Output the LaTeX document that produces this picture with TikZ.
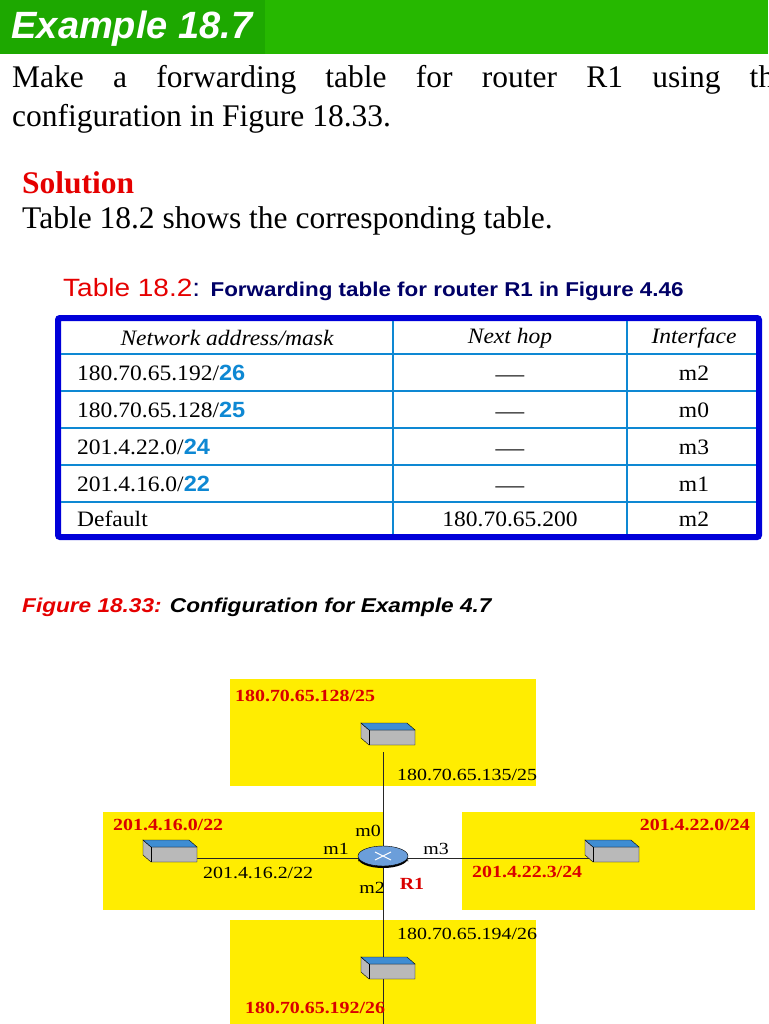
\documentclass[tikz,border=0pt]{standalone}
\usepackage{fontspec}
\setmainfont{Liberation Serif}
\setsansfont{Liberation Sans}
\newcommand\xstretch[2]{\scalebox{#1}[1]{#2}}
\begin{document}
\begin{tikzpicture}[x=1pt,y=-1pt,
  ybox/.style={fill=yellow!95!orange,draw=none},
  netlbl/.style={font=\fontsize{17}{18}\selectfont\bfseries,text=red!85!black,inner sep=0pt},
  iplbl/.style={font=\fontsize{17}{18}\selectfont,inner sep=0pt,anchor=west},
  cell/.style={font=\fontsize{22}{24}\selectfont,inner sep=0pt}]
\useasboundingbox (0,0) rectangle (768,1024);
\clip (0,0) rectangle (768,1024);
% banner
\fill[green!65!black!80!lime] (0,0) rectangle (768,54);
\fill[green!60!black!85!lime] (0,0) rectangle (265,54);
\node[anchor=west,text=white,font=\sffamily\bfseries\itshape\fontsize{38}{40}\selectfont] (title) at (8,29) {Example 18.7};
% text
\node[anchor=west,inner sep=0pt,font=\fontsize{31.5}{34}\selectfont] (l1) at (12,80) {\makebox[776pt][s]{Make a forwarding table for router R1 using the}};
\node[anchor=west,inner sep=0pt,font=\fontsize{31.5}{34}\selectfont] (l2) at (12,119) {configuration in Figure 18.33.};
\node[anchor=west,inner sep=0pt,text=red!90!black,font=\bfseries\fontsize{31.5}{34}\selectfont] (sol) at (22,183) {Solution};
\node[anchor=west,inner sep=0pt,font=\fontsize{31.5}{34}\selectfont] (l3) at (22,221) {Table 18.2 shows the corresponding table.};
\node[anchor=west,inner sep=0pt,font=\sffamily] (cap) at (63,290) {\xstretch{1.12}{\fontsize{25}{27}\selectfont\textcolor{red!90!black}{Table 18.2}\textcolor{blue!40!black}{: \bfseries\fontsize{20}{22}\selectfont Forwarding table for router R1 in Figure 4.46}}};
% table
\fill[white] (55,315) rectangle (762,540);
\draw[blue!85!black,line width=6pt,rounded corners=2pt] (58,318) rectangle (759,537);
\foreach \y in {354,391,428,465,502} \draw[cyan!70!blue,line width=1.5pt] (61,\y) -- (756,\y);
\draw[cyan!70!blue,line width=1.5pt] (393,321) -- (393,534);
\draw[cyan!70!blue,line width=1.5pt] (627,321) -- (627,534);
\node[cell] (h1) at (227,338) {\xstretch{1.07}{\itshape Network address/mask}};
\node[cell] (h2) at (510,338) {\xstretch{1.07}{\itshape Next hop}};
\node[cell] (h3) at (694,338) {\xstretch{1.07}{\itshape Interface}};
\node[cell,anchor=west] (r1) at (77,373) {\xstretch{1.07}{180.70.65.192/\textcolor{cyan!70!blue}{\sffamily\bfseries 26}}};
\node[cell,anchor=west] (r2) at (77,410) {\xstretch{1.07}{180.70.65.128/\textcolor{cyan!70!blue}{\sffamily\bfseries 25}}};
\node[cell,anchor=west] (r3) at (77,447) {\xstretch{1.07}{201.4.22.0/\textcolor{cyan!70!blue}{\sffamily\bfseries 24}}};
\node[cell,anchor=west] (r4) at (77,484) {\xstretch{1.07}{201.4.16.0/\textcolor{cyan!70!blue}{\sffamily\bfseries 22}}};
\node[cell,anchor=west] (r5) at (77,519) {\xstretch{1.07}{Default}};
\foreach \y/\n in {373/a,410/b,447/c,484/d} \node[cell] (nh\n) at (510,\y+6) {\xstretch{1.3}{---}};
\node[cell] (nhe) at (510,519) {\xstretch{1.07}{180.70.65.200}};
\node[cell] (i1) at (694,373) {\xstretch{1.07}{m2}};
\node[cell] (i2) at (694,410) {\xstretch{1.07}{m0}};
\node[cell] (i3) at (694,447) {\xstretch{1.07}{m3}};
\node[cell] (i4) at (694,484) {\xstretch{1.07}{m1}};
\node[cell] (i5) at (694,519) {\xstretch{1.07}{m2}};
% figure caption
\node[anchor=west,inner sep=0pt,font=\sffamily\bfseries\itshape\fontsize{20}{22}\selectfont] (fcap) at (22,607) {\xstretch{1.13}{\textcolor{red!90!black}{Figure 18.33:} Configuration for Example 4.7}};
% diagram
\fill[ybox] (230,679) rectangle (536,786);
\fill[ybox] (103,812) rectangle (384,910);
\fill[ybox] (462,812) rectangle (755,910);
\fill[ybox] (230,920) rectangle (536,1030);
\coordinate (top) at (383,752);
\coordinate (bot) at (383,1024);
\coordinate (lft) at (196,858);
\coordinate (rgt) at (590,858);
\draw[gray!30!black,line width=1pt] (top) -- (bot);
\draw[gray!30!black,line width=1pt] (lft) -- (rgt);
% switches
\foreach \n/\cx/\cy in {sw0/388/741,sw1/170/858,sw3/612/858,sw2/388/975}{
  \begin{scope}[shift={(\cx,\cy)}]
  \filldraw[fill=gray!55,draw=black] (-27,-3) -- (-19,4) -- (27,4) -- (27,-11) -- (-19,-11) -- (-27,-18) -- cycle;
  \filldraw[fill=cyan!60!blue!80,draw=black] (-27,-18) -- (19,-18) -- (27,-11) -- (-19,-11) -- cycle;
  \draw (-19,-11) -- (-19,4);
  \end{scope}
  \coordinate (\n) at (\cx,\cy);
}
% router
\fill[black] (358,862) arc (180:360:25 and 10) -- (408,858) arc (0:180:25 and 10) -- cycle;
\filldraw[fill=cyan!55!blue!60,draw=black] (383,856) ellipse (25 and 10);
\draw[white,line width=1pt] (375,852) -- (391,860) (375,860) -- (391,852);
\node[inner sep=0pt] (R) at (383,858) {};
% labels
\node[netlbl,anchor=west] (n0) at (235,696) {\xstretch{1.17}{180.70.65.128/25}};
\node[netlbl,anchor=west] (n1) at (113,825) {\xstretch{1.17}{201.4.16.0/22}};
\node[netlbl,anchor=east] (n3) at (750,825) {\xstretch{1.17}{201.4.22.0/24}};
\node[netlbl,anchor=west] (n2) at (245,1008) {\xstretch{1.17}{180.70.65.192/26}};
\node[iplbl] (a0) at (397,775) {\xstretch{1.17}{180.70.65.135/25}};
\node[iplbl] (a1) at (203,873) {\xstretch{1.17}{201.4.16.2/22}};
\node[netlbl,anchor=west] (a3) at (472,872) {\xstretch{1.17}{201.4.22.3/24}};
\node[iplbl] (a2) at (397,934) {\xstretch{1.17}{180.70.65.194/26}};
\node[iplbl,anchor=center] (m0) at (368,831) {\xstretch{1.17}{m0}};
\node[iplbl,anchor=center] (m1) at (336,849) {\xstretch{1.17}{m1}};
\node[iplbl,anchor=center] (m3) at (436,849) {\xstretch{1.17}{m3}};
\node[iplbl,anchor=center] (m2) at (372,888) {\xstretch{1.17}{m2}};
\node[netlbl] (r1lbl) at (412,884) {\xstretch{1.17}{R1}};
\end{tikzpicture}
\end{document}
